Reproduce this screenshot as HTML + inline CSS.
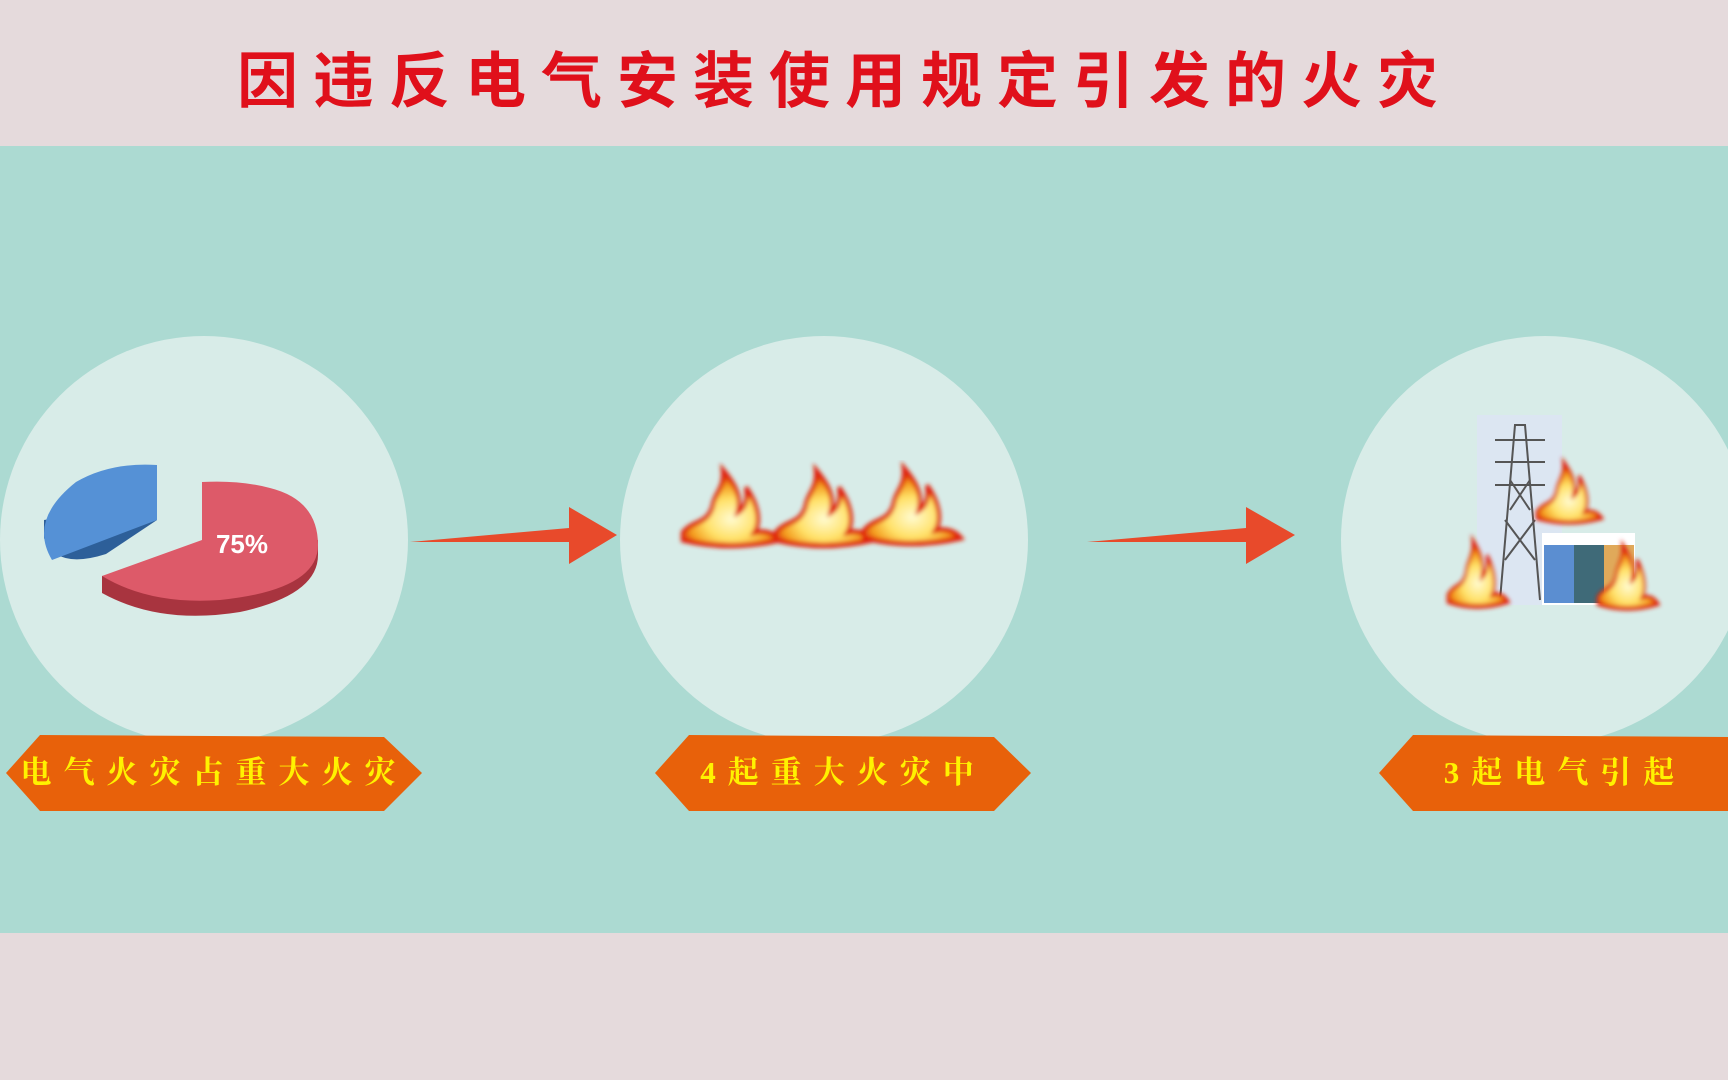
<!DOCTYPE html>
<html><head><meta charset="utf-8"><style>
html,body{margin:0;padding:0;}
body{width:1728px;height:1080px;background:#e5dadc;position:relative;overflow:hidden;font-family:"Liberation Sans","Noto Sans CJK SC",sans-serif;}
.title{position:absolute;left:0;top:38px;width:1690px;text-align:center;font-size:61px;font-weight:bold;color:#e0101b;letter-spacing:15px;line-height:86px;}
.band{position:absolute;left:0;top:146px;width:1728px;height:787px;background:#acdad2;}
.lbl{position:absolute;height:76px;line-height:76px;color:#fff200;font-size:31px;font-family:"Liberation Serif","Noto Serif CJK SC",serif;font-weight:bold;letter-spacing:12px;text-align:center;}
</style></head><body>
<div class="title">因违反电气安装使用规定引发的火灾</div>
<div class="band"></div>
<svg width="1728" height="1080" style="position:absolute;left:0;top:0">
<defs>
<radialGradient id="fg" cx="50%" cy="65%" r="60%">
<stop offset="0" stop-color="#fffbd0"/><stop offset="0.45" stop-color="#ffe066"/><stop offset="0.75" stop-color="#f39a1c"/><stop offset="1" stop-color="#d41a10"/></radialGradient>
<filter id="bl"><feGaussianBlur stdDeviation="2"/></filter>
<g id="fire">
<path d="M0,50 C10,40 22,44 28,30 C30,18 40,15 38,0 C50,12 56,22 52,34 C60,30 62,22 60,14 C72,28 74,42 68,50 C80,48 88,52 92,56 C60,62 30,62 0,56 Z" fill="url(#fg)" stroke="#e02010" stroke-width="4"/>
</g>
</defs>
<circle cx="204" cy="540" r="204" fill="#d8ece8"/>
<circle cx="824" cy="540" r="204" fill="#d8ece8"/>
<circle cx="1545" cy="540" r="204" fill="#d8ece8"/>
<g>
<path d="M44,520 L44,538 Q56,570 106,554 L157,520 L157,502 Z" fill="#2d5f99"/>
<path d="M157,465 L157,520 L52,560 Q28,520 76,482 Q110,462 157,465 Z" fill="#5591d6"/>
<path d="M102,576 L102,593 Q160,625 240,612 Q318,595 318,555 L318,540 Z" fill="#a8343f"/>
<path d="M202,482 L202,540 L102,576 Q150,605 220,600 Q318,590 318,545 Q318,500 270,488 Q240,480 202,482 Z" fill="#dd5a69"/>
<text x="242" y="553" font-size="26" font-weight="bold" fill="#fff" text-anchor="middle" font-family="Liberation Sans,sans-serif">75%</text>
</g>
<polygon points="410,542 569,528 569,507 617,535 569,564 569,542" fill="#e84a2b"/>
<polygon points="1087,542 1246,528 1246,507 1295,535 1246,564 1246,542" fill="#e84a2b"/>
<g filter="url(#bl)">
<use href="#fire" transform="translate(683,470) scale(1.05,1.25)"/>
<use href="#fire" transform="translate(776,470) scale(1.05,1.25)"/>
<use href="#fire" transform="translate(864,468) scale(1.05,1.25)"/>
</g>
<rect x="1477" y="415" width="85" height="190" fill="#dce6f2"/>
<g stroke="#555" stroke-width="2" fill="none">
<path d="M1500,600 L1515,425 L1525,425 L1540,600"/>
<path d="M1495,440 L1545,440 M1495,462 L1545,462 M1495,485 L1545,485"/>
<path d="M1505,520 L1535,560 M1535,520 L1505,560 M1510,480 L1530,510 M1530,480 L1510,510"/>
</g>
<rect x="1542" y="533" width="93" height="72" fill="#fff"/>
<rect x="1544" y="545" width="30" height="58" fill="#5b8ed1"/>
<rect x="1574" y="545" width="30" height="58" fill="#3f6a78"/>
<rect x="1604" y="545" width="30" height="58" fill="#e0a95a"/>
<g filter="url(#bl)">
<use href="#fire" transform="translate(1537,462) scale(0.7,1)"/>
<use href="#fire" transform="translate(1448,540) scale(0.65,1.1)"/>
<use href="#fire" transform="translate(1598,545) scale(0.65,1.05)"/>
</g>
<polygon points="40,735 384,737 422,773 384,811 40,811 6,773" fill="#e8610a"/>
<polygon points="689,735 994,737 1031,773 994,811 689,811 655,773" fill="#e8610a"/>
<polygon points="1413,735 1728,737 1728,811 1413,811 1379,773" fill="#e8610a"/>
</svg>
<div class="lbl" style="left:14px;top:735px;width:400px;">电气火灾占重大火灾</div>
<div class="lbl" style="left:663px;top:735px;width:360px;">4起重大火灾中</div>
<div class="lbl" style="left:1400px;top:735px;width:330px;">3起电气引起</div>
</body></html>
